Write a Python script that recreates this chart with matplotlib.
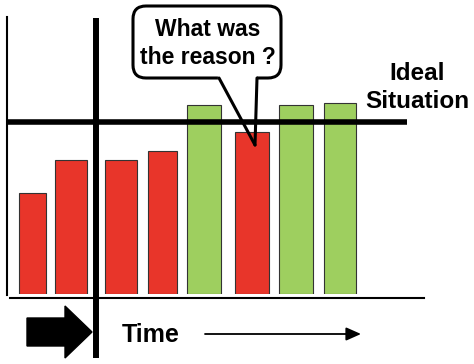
"""Schematic: performance per period vs the ideal situation line."""
import matplotlib
matplotlib.use("Agg")
import matplotlib.pyplot as plt
from matplotlib.patches import FancyBboxPatch, Polygon

plt.rcParams["font.family"] = ["Liberation Sans", "DejaVu Sans"]

# performance per period (ideal = 100)
periods = ["P1", "P2", "P3", "P4", "P5", "P6", "P7", "P8"]
values = [59, 78, 78, 83, 110, 94, 110, 111]
meets_ideal = [False, False, False, False, True, False, True, True]
IDEAL = 100

# layout (pixels)
W, H = 474, 364
bar_x = [32.7, 71, 121, 162.5, 204, 252, 296, 340]
bar_w = [27, 32, 32, 29, 34, 34.5, 34, 32]
RED, GREEN = "#E8352A", "#9ECF5F"

fig = plt.figure(figsize=(W / 100, H / 100), dpi=100)

# bar axes: value 0 sits at pixel y=294, 1 unit = 1.72 px
px_per_unit = 1.72
ax = fig.add_axes([0, (H - 294) / H, 1, 160 * px_per_unit / H])
ax.set_xlim(0, W)
ax.set_ylim(0, 160)
ax.axis("off")
colors = [GREEN if ok else RED for ok in meets_ideal]
ax.bar(bar_x, values, width=bar_w, color=colors, edgecolor="#333333", lw=0.8)
ax.plot([7, 407], [IDEAL, IDEAL], color="black", lw=4, solid_capstyle="butt")

# overlay in pixel coords for the drawing parts
ov = fig.add_axes([0, 0, 1, 1], zorder=3)
ov.set_xlim(0, W)
ov.set_ylim(H, 0)
ov.axis("off")
ov.patch.set_alpha(0)

ov.plot([7, 7], [17, 295], color="black", lw=1.5)
ov.plot([10, 424], [298, 298], color="black", lw=1.5)
ov.plot([96, 96], [18, 358], color="black", lw=4.3, solid_capstyle="butt")

# speech bubble
bubble = FancyBboxPatch((133, 6), 148, 72, boxstyle="round,pad=0,rounding_size=13",
                        facecolor="white", edgecolor="black", lw=2.2)
ov.add_patch(bubble)
ov.plot([220, 255.5], [78, 78], color="white", lw=3)
ov.plot([219, 255], [78, 145], color="black", lw=2.2, solid_capstyle="round")
ov.plot([257, 255], [78, 145], color="black", lw=2.2, solid_capstyle="round")
ov.text(207.5, 36.5, "What was", ha="center", va="baseline",
        fontsize=16.5, fontweight="bold")
ov.text(207.5, 63.5, "the reason ?", ha="center", va="baseline",
        fontsize=16.5, fontweight="bold")

ov.text(417, 80, "Ideal", ha="center", va="baseline", fontsize=17.5, fontweight="bold")
ov.text(417, 108, "Situation", ha="center", va="baseline", fontsize=17.5, fontweight="bold")

# bottom: big arrow, time label, thin arrow
ov.add_patch(Polygon([(27, 318), (65, 318), (65, 306), (92, 332), (65, 358),
                      (65, 346), (27, 346)], closed=True, color="black"))
ov.text(122, 341.5, "Time", ha="left", va="baseline", fontsize=18, fontweight="bold")
ov.annotate("", xy=(361, 334), xytext=(205, 334),
            arrowprops=dict(arrowstyle="-|>,head_length=0.9,head_width=0.4",
                            lw=1.3, color="black", shrinkA=0, shrinkB=0))

fig.savefig("out.png", dpi=100)
